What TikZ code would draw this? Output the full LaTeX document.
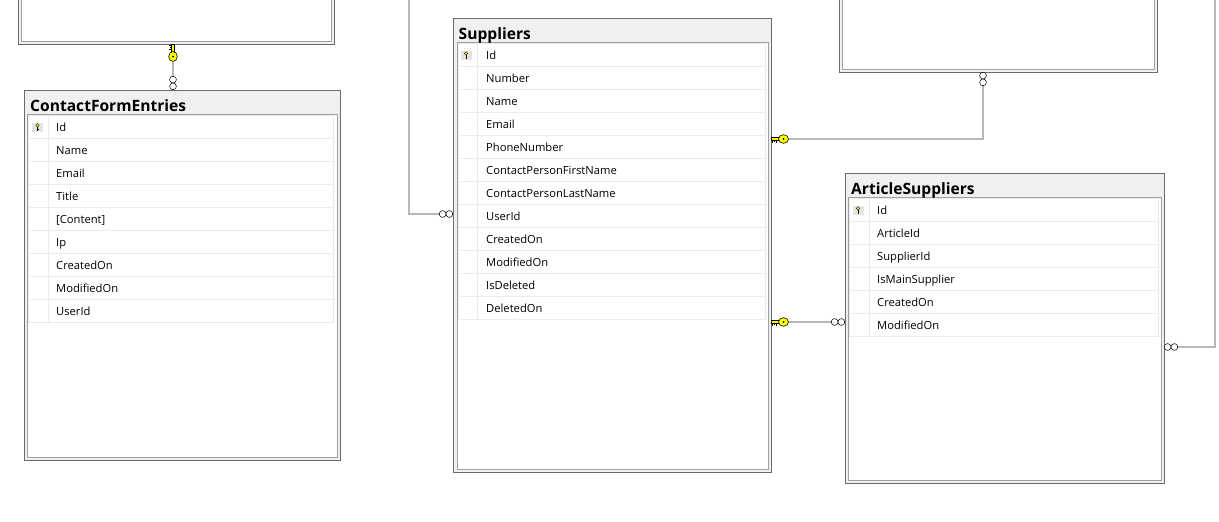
\documentclass[tikz,border=0pt]{standalone}
\usepackage{fontspec}
\setmainfont{Open Sans}
\definecolor{framedark}{HTML}{6A6A6A}
\definecolor{framelight}{HTML}{A0A0A0}
\definecolor{headbg}{HTML}{F0F0F0}
\definecolor{rowgrid}{HTML}{EBEBEB}
\definecolor{keyyellow}{HTML}{FFFF00}
\definecolor{pkbg}{HTML}{E4E4E4}
\tikzset{
  tframe/.style={draw=framedark,fill=headbg,line width=1pt,inner sep=0pt,outer sep=0pt,anchor=north west},
  tinner/.style={draw=framelight,fill=white,line width=1pt,inner sep=0pt,outer sep=0pt,anchor=north west},
  ttitle/.style={anchor=base west,inner sep=0pt,font=\bfseries\fontsize{15.6}{18}\selectfont},
  field/.style={anchor=base west,inner sep=0pt,text=black,font=\fontsize{11.2}{13}\selectfont},
  rowgridline/.style={draw=rowgrid,line width=0.8pt},
  pkbox/.style={fill=pkbg,minimum width=11pt,minimum height=9pt,inner sep=0pt},
  rel/.style={draw=black!62,double=black!28,double distance=1.1pt,line width=0.9pt,line join=miter},
  pics/onekey/.style={code={
    \fill[keyyellow,draw=black,line width=0.5pt] (0,-1.3) rectangle (8,1.3);
    \draw[line width=0.7pt] (1,1.3) -- (1,3.8) (3,1.3) -- (3,3.2) (5,1.3) -- (5,3.8);
    \filldraw[fill=keyyellow,draw=black,line width=0.6pt] (12.5,0) ellipse (5pt and 4.3pt);
    \fill (12.5,0) circle (1pt);
  }},
  pics/manyend/.style={code={
    \filldraw[fill=white,draw=black,line width=0.5pt] (3.6,0) circle (3.4pt) (10.4,0) circle (3.4pt);
  }},
  pics/pkkey/.style={code={
    \draw[line width=0.6pt] (0,-0.5) -- (0,3.5) (0,2.5) -- (1.3,2.5);
    \filldraw[fill=keyyellow,draw=black,line width=0.4pt] (0,-1.6) circle (1.7pt);
  }}
}
\begin{document}
\begin{tikzpicture}[x=1pt,y=-1pt]
\clip (0,0) rectangle (1219,522);
%bang tren trai
\node[tframe,minimum width=316pt,minimum height=60pt] (topleft) at (18,-16) {};
\node[tinner,minimum width=310pt,minimum height=57pt] (topleftin) at (21,-16) {};
%bang tren phai
\node[tframe,minimum width=318pt,minimum height=88pt] (topright) at (839,-16) {};
\node[tinner,minimum width=312pt,minimum height=85pt] (toprightin) at (842,-16) {};
%ContactFormEntries
\node[tframe,minimum width=316pt,minimum height=370pt] (cfe) at (24,90) {};
\node[tinner,minimum width=310pt,minimum height=343pt] (cfein) at (27,114) {};
\node[ttitle] (cfe-title) at (30,111) {ContactFormEntries};
\draw[rowgridline] (28,115.5) rectangle (333,322.5);
\draw[rowgridline] (48,115.5) -- (48,322.5);
\foreach \f [count=\i from 0] in {Id,Name,Email,Title,{[Content]},Ip,CreatedOn,ModifiedOn,UserId}
{
  \draw[rowgridline] (28,{115.5+23*(\i+1)}) -- (333,{115.5+23*(\i+1)});
  \node[field] (cfe-\i) at (56,{131.5+23*\i}) {\f};
}
\node[pkbox] (cfe-pk) at (37.5,127) {};
\pic at (cfe-pk) {pkkey};
%Suppliers
\node[tframe,minimum width=318pt,minimum height=454pt] (sup) at (453,18) {};
\node[tinner,minimum width=311pt,minimum height=427pt] (supin) at (457,42) {};
\node[ttitle] (sup-title) at (458.5,39.5) {Suppliers};
\draw[rowgridline] (458,43.5) rectangle (765,319.5);
\draw[rowgridline] (477,43.5) -- (477,319.5);
\foreach \f [count=\i from 0] in {Id,Number,Name,Email,PhoneNumber,ContactPersonFirstName,ContactPersonLastName,UserId,CreatedOn,ModifiedOn,IsDeleted,DeletedOn}
{
  \draw[rowgridline] (458,{43.5+23*(\i+1)}) -- (765,{43.5+23*(\i+1)});
  \node[field] (sup-\i) at (486,{59.5+23*\i}) {\f};
}
\node[pkbox] (sup-pk) at (466,55) {};
\pic at (sup-pk) {pkkey};
%ArticleSuppliers
\node[tframe,minimum width=319pt,minimum height=310pt] (artsup) at (845,173) {};
\node[tinner,minimum width=313pt,minimum height=283pt] (artsupin) at (848,197) {};
\node[ttitle] (artsup-title) at (851,194) {ArticleSuppliers};
\draw[rowgridline] (849,198.5) rectangle (1158,336.5);
\draw[rowgridline] (869,198.5) -- (869,336.5);
\foreach \f [count=\i from 0] in {Id,ArticleId,SupplierId,IsMainSupplier,CreatedOn,ModifiedOn}
{
  \draw[rowgridline] (849,{198.5+23*(\i+1)}) -- (1158,{198.5+23*(\i+1)});
  \node[field] (artsup-\i) at (877,{214.5+23*\i}) {\f};
}
\node[pkbox] (artsup-pk) at (858,210) {};
\pic at (artsup-pk) {pkkey};
%quan he 1
\coordinate (c1) at (173,0);
\draw[rel] ([yshift=-17pt]topleft.south -| c1) -- (cfe.north -| c1);
\pic[rotate=-90] at (topleft.south -| c1) {onekey};
\pic[rotate=90] at (cfe.north -| c1) {manyend};
%quan he 2
\coordinate (r2) at (983,139);
\draw[rel] ([xshift=17pt]sup.east |- r2) -| ([yshift=-14pt]topright.south -| r2);
\pic at (sup.east |- r2) {onekey};
\pic[rotate=-90] at (topright.south -| r2) {manyend};
%quan he 3
\coordinate (r3) at (808,322);
\draw[rel] ([xshift=17pt]sup.east |- r3) -- ([xshift=-14pt]artsup.west |- r3);
\pic at (sup.east |- r3) {onekey};
\pic[rotate=180] at (artsup.west |- r3) {manyend};
%quan he 4
\coordinate (r4) at (1215,347);
\coordinate (t4) at (1215,-5);
\draw[rel] ([xshift=14pt]artsup.east |- r4) -| (t4);
\pic at (artsup.east |- r4) {manyend};
%quan he 5
\coordinate (r5) at (409,214);
\coordinate (t5) at (409,-5);
\draw[rel] ([xshift=-14pt]sup.west |- r5) -| (t5);
\pic[rotate=180] at (sup.west |- r5) {manyend};
\end{tikzpicture}
\end{document}
